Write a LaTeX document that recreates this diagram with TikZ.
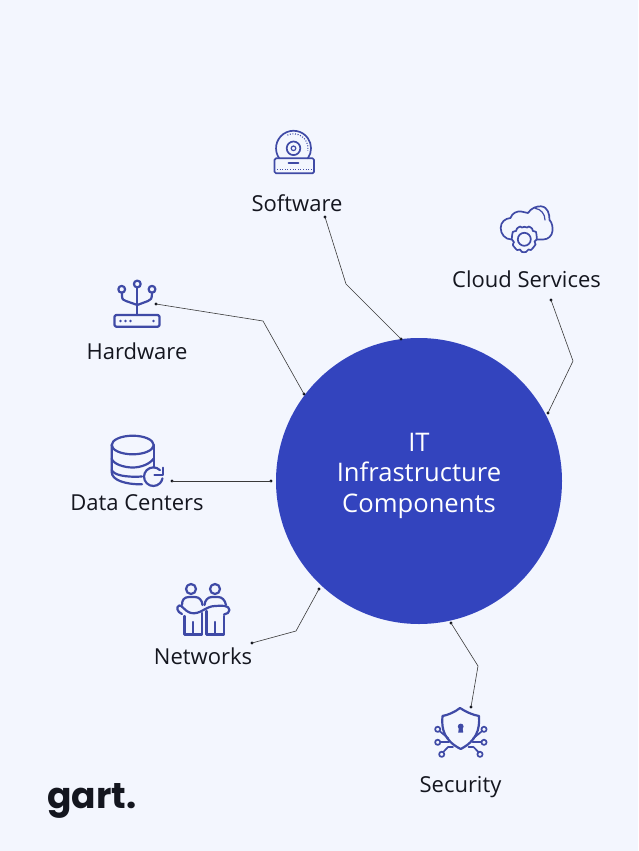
\documentclass[tikz,border=0pt]{standalone}
\usepackage{fontspec}
\setmainfont{Open Sans}
\newfontfamily\logofont{Poppins}[BoldFont={Poppins Bold}]
\definecolor{bgc}{HTML}{F3F6FE}
\definecolor{hub}{HTML}{3344BE}
\definecolor{ico}{HTML}{3F4AA6}
\definecolor{ink}{HTML}{14161F}
\definecolor{wire}{HTML}{3A3A3A}
\tikzset{
  lab/.style={anchor=base,inner sep=0pt,text=ink,font=\fontsize{22}{26}\selectfont},
  hubtxt/.style={anchor=base,inner sep=0pt,text=white,font=\fontsize{25.6}{30}\selectfont},
  tip/.style={circle,fill=ink,inner sep=0pt,minimum size=3.4pt},
  wirel/.style={draw=wire,line width=0.6pt,line join=round},
  icon/.style={draw=ico,line width=2.2pt,line cap=round,line join=round,fill=none},
  fine icon/.style={draw=ico,line width=1.7pt,line cap=round,line join=round,fill=none},
  dots/.style={draw=ico,line width=1.1pt,dash pattern=on 1pt off 1.6pt,fill=none},
}
\begin{document}
\begin{tikzpicture}[x=1pt,y=-1pt]
\fill[bgc] (0,0) rectangle (638,851);
\useasboundingbox (0,0) rectangle (638,851);
% hub
\node[circle,fill=hub,minimum size=286pt,inner sep=0pt] (hubc) at (419,481) {};
\node[hubtxt] (h1) at (419,451) {IT};
\node[hubtxt] (h2) at (419,481) {Infrastructure};
\node[hubtxt] (h3) at (419,512) {Components};
% labels
\node[lab] (software) at (297,211) {Software};
\node[lab] (cloud) at (526.5,287) {Cloud Services};
\node[lab] (hardware) at (137,359) {Hardware};
\node[lab] (datac) at (137,510) {Data Centers};
\node[lab] (networks) at (203,664) {Networks};
\node[lab] (security) at (460.5,792) {Security};
% connector ends
\node[tip] (a1) at (325,217) {}; \node[tip] (a2) at (401,339) {};
\node[tip] (b1) at (551,300) {}; \node[tip] (b2) at (548,413) {};
\node[tip] (c1) at (156,304) {}; \node[tip] (c2) at (304,394) {};
\node[tip] (d1) at (172,481) {}; \node[tip] (d2) at (271,481) {};
\node[tip] (e1) at (252,643) {}; \node[tip] (e2) at (319,589) {};
\node[tip] (f1) at (451,623) {}; \node[tip] (f2) at (471,707) {};
\draw[wirel] (a1.center) -- (346,284) -- (a2.center);
\draw[wirel] (b1.center) -- (573,361) -- (b2.center);
\draw[wirel] (c1.center) -- (263,321) -- (c2.center);
\draw[wirel] (d1.center) -- (d2.center);
\draw[wirel] (e1.center) -- (296,631) -- (e2.center);
\draw[wirel] (f1.center) -- (478,666) -- (f2.center);
% software icon
\begin{scope}
\draw[fine icon] (279.2,158.3) arc[start angle=-215,end angle=35,radius=17.5];
\draw[fine icon,rounded corners=1.5pt] (274.5,158.3) rectangle (314,173.3);
\draw[fine icon] (293.5,148.3) circle[radius=6.8];
\draw[fine icon,line width=1.2pt] (293.5,148.3) circle[radius=2.3];
\draw[dots] (287.4,135.2) arc[start angle=-115,end angle=10,radius=14.5];
\draw[fine icon] (288.5,162.7) -- (298.5,162.7);
\draw[dots] (277,169.3) -- (312,169.3);
\end{scope}
% cloud icon
\begin{scope}
\draw[fine icon] (511.5,239.5) .. controls (505,239.5) and (500.7,234) .. (500.7,228) .. controls (500.7,222) and (505,218.5) .. (510.5,218)
 .. controls (512,213) and (517,211) .. (521,211.5) .. controls (523,212) and (526,212.5) .. (528,213)
 .. controls (531,208) and (537,206) .. (541,206.3) .. controls (548,207) and (549.5,214) .. (549.5,220)
 .. controls (552,222) and (553,228) .. (552.5,231) .. controls (552,236) and (548,239.5) .. (543,239.5) -- (537,239.5);
\draw[fine icon,line width=1.2pt] (535,208.3) .. controls (541,209) and (545,214) .. (545,220);
\draw[fine icon,fill=bgc] plot[smooth cycle,tension=0.35] coordinates {
 (524.3,226.8) (527,227.5) (529,226.5) (532,228.5) (533,231) (536,232) (536.8,239.3) (534.5,241.5) (535.5,244.5) (531,250) (528.5,249.5) (526,252) (522,252) (520,249.5) (517,250) (512.8,245) (514,242) (511.8,239.3) (512.8,232) (516,231) (517,228.5) (520,226.5) (522,227.5)};
\draw[fine icon] (524.3,239.3) circle[radius=6.5];
\end{scope}
% hardware icon
\begin{scope}
\draw[icon,rounded corners=1.5pt] (114.5,315) rectangle (159.5,326.7);
\foreach \px in {120.5,125.5,130.5,153.5}{\fill[ico] (\px,321) circle[radius=1.4];}
\draw[icon] (137.3,287.5) -- (137.3,315);
\draw[icon] (122,292.5) -- (122,296) .. controls (122,300) and (124,300) .. (126,301) -- (137.3,305) -- (148,301) .. controls (151,300) and (152,299) .. (152,292.5);
\draw[icon] (137.3,284) circle[radius=3.4];
\draw[icon] (121.7,289.3) circle[radius=3.4];
\draw[icon] (152,289.3) circle[radius=3.4];
\end{scope}
% data centre icon
\begin{scope}
\draw[icon] (132.7,445) ellipse[x radius=21,y radius=9.3];
\draw[icon] (111.7,445) -- (111.7,472) .. controls (111.7,480) and (125,484.5) .. (142,484.3);
\draw[icon] (153.7,445) -- (153.7,467);
\draw[icon] (111.7,458.5) .. controls (113,464) and (124,467.5) .. (132.7,467.5) .. controls (141,467.5) and (150,464) .. (153.7,458.5);
\draw[icon] (111.7,470) .. controls (114,475) and (125,477.5) .. (142,476.5);
\draw[icon] (159.9,470.1) arc[start angle=-45,end angle=-350,radius=9.3];
\draw[icon] (162.7,467.7) -- (162.7,475) -- (154.5,475);
\end{scope}
% networks icon
\begin{scope}
\draw[icon] (191,589) circle[radius=5];
\draw[icon] (215,589) circle[radius=5];
\draw[icon] (182,605) .. controls (182,600) and (184,597) .. (189,597) -- (195,597) .. controls (199,597) and (202,600) .. (202.5,605);
\draw[icon] (204.5,605) .. controls (205,600) and (208,597) .. (212,597) -- (218,597) .. controls (222,597) and (225,600) .. (226,605);
\draw[icon] (184.5,616) -- (184.5,634.5) -- (202,634.5) -- (202,613);
\draw[icon] (193.3,622) -- (193.3,634.5);
\draw[icon] (206.5,611) -- (206.5,634.5) -- (224,634.5) -- (224,616);
\draw[icon] (215.3,622) -- (215.3,634.5);
\draw[icon] (182,614) .. controls (177,612) and (176,607) .. (179,605.5) .. controls (182,604.5) and (184,611) .. (191,613) .. controls (200,615) and (206,606) .. (215,606) .. controls (222,605.5) and (229,605) .. (229.5,610) .. controls (229.5,612) and (227,614.5) .. (224,614.5);
\end{scope}
% security icon
\begin{scope}
\draw[icon] (460,708) .. controls (455,712) and (448,715) .. (442.5,716) .. controls (441,730) and (445,741) .. (460.7,749) .. controls (476,741) and (480,730) .. (479,716) .. controls (473,715) and (466,712) .. (460,708) -- cycle;
\fill[ico] (460.7,726.5) circle[radius=2.9];
\fill[ico] (459,727) -- (462.4,727) -- (463.2,732.6) -- (458.2,732.6) -- cycle;
\foreach \cx/\cy in {437.7/729.3,437.7/742.3,441.7/754.3,484/729.3,484/742.3,480/754.3}{\draw[fine icon] (\cx,\cy) circle[radius=2.6];}
\draw[fine icon] (439.5,731) -- (448.5,738.5);
\draw[fine icon] (440.3,742.3) -- (449,742.3);
\draw[fine icon] (443,752.3) -- (448,747) -- (453,747);
\draw[fine icon] (482.2,731) -- (473,738.5);
\draw[fine icon] (481.4,742.3) -- (472.5,742.3);
\draw[fine icon] (478.7,752.3) -- (473.5,747) -- (468.5,747);
\end{scope}
% logo
\node[anchor=base west,inner sep=0pt,text=ink,font=\logofont\bfseries\fontsize{36}{40}\selectfont] (logo) at (47,808) {gart.};
\end{tikzpicture}
\end{document}
